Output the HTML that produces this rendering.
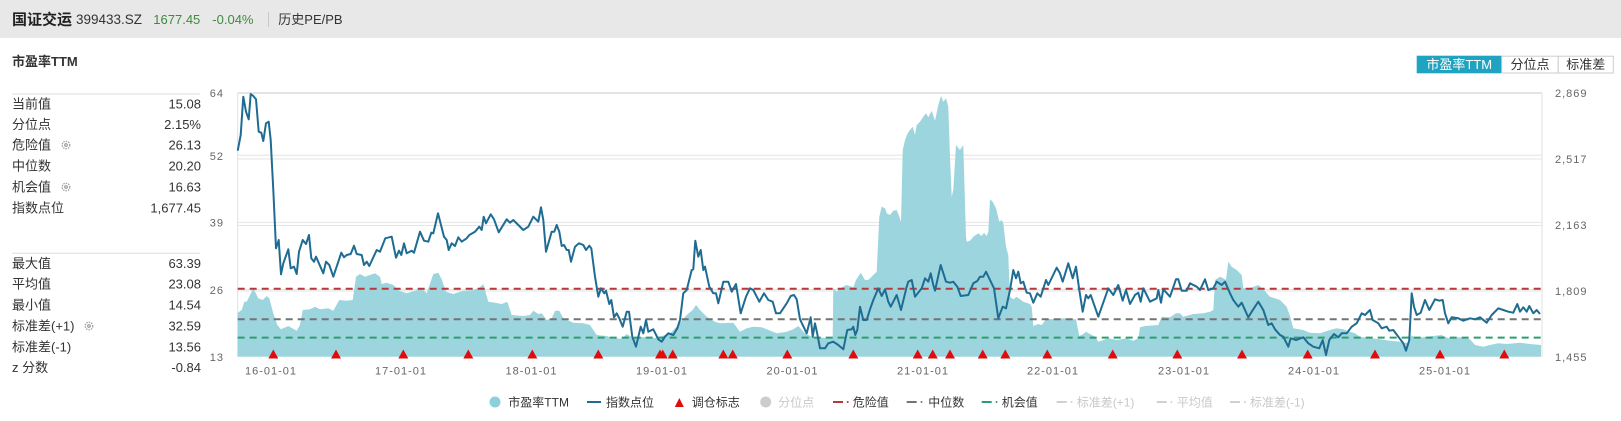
<!DOCTYPE html>
<html><head><meta charset="utf-8"><style>
html,body{margin:0;padding:0;background:#fff;}
body{width:1621px;height:421px;overflow:hidden;}
svg{display:block;font-family:"Liberation Sans","Noto Sans CJK SC",sans-serif;}
</style></head><body>
<svg width="1621" height="421" viewBox="0 0 1621 421" xmlns="http://www.w3.org/2000/svg">
<!-- header -->
<rect x="0" y="0" width="1621" height="38" fill="#e8e8e8"/>
<text x="12" y="24.5" font-size="15" font-weight="bold" fill="#222">国证交运</text>
<text x="76" y="24" font-size="13.5" fill="#333">399433.SZ</text>
<text x="153.3" y="24" font-size="13" fill="#3d8b3d">1677.45</text>
<text x="212.3" y="24" font-size="13" fill="#3d8b3d">-0.04%</text>
<line x1="268.5" y1="12" x2="268.5" y2="27" stroke="#c8c8c8"/>
<text x="278.3" y="24" font-size="13" fill="#333">历史PE/PB</text>

<text x="12" y="66" font-size="13" font-weight="bold" fill="#333">市盈率TTM</text>

<!-- buttons -->
<rect x="1416.7" y="55.7" width="85" height="17.6" fill="#1fa3c0"/>
<text x="1459.2" y="69" font-size="13" fill="#fff" text-anchor="middle">市盈率TTM</text>
<rect x="1501.7" y="56.2" width="56.6" height="16.8" fill="#fff" stroke="#ccc"/>
<text x="1530" y="69" font-size="13" fill="#333" text-anchor="middle">分位点</text>
<rect x="1558.3" y="56.2" width="55" height="16.8" fill="#fff" stroke="#ccc"/>
<text x="1585.8" y="69" font-size="13" fill="#333" text-anchor="middle">标准差</text>

<!-- left stats -->
<g font-size="13" fill="#333">
<line x1="12" y1="94" x2="200" y2="94" stroke="#ddd"/>
<text x="12" y="108.5">当前值</text><text x="201" y="108.5" text-anchor="end">15.08</text>
<text x="12" y="129">分位点</text><text x="201" y="129" text-anchor="end">2.15%</text>
<text x="12" y="149.5">危险值</text><text x="201" y="149.5" text-anchor="end">26.13</text>
<text x="12" y="170.5">中位数</text><text x="201" y="170.5" text-anchor="end">20.20</text>
<text x="12" y="191.5">机会值</text><text x="201" y="191.5" text-anchor="end">16.63</text>
<text x="12" y="212.5">指数点位</text><text x="201" y="212.5" text-anchor="end">1,677.45</text>
<line x1="12" y1="253.3" x2="200" y2="253.3" stroke="#ddd"/>
<text x="12" y="268">最大值</text><text x="201" y="268" text-anchor="end">63.39</text>
<text x="12" y="288.5">平均值</text><text x="201" y="288.5" text-anchor="end">23.08</text>
<text x="12" y="309.5">最小值</text><text x="201" y="309.5" text-anchor="end">14.54</text>
<text x="12" y="330.5">标准差(+1)</text><text x="201" y="330.5" text-anchor="end">32.59</text>
<text x="12" y="351.5">标准差(-1)</text><text x="201" y="351.5" text-anchor="end">13.56</text>
<text x="12" y="372">z 分数</text><text x="201" y="372" text-anchor="end">-0.84</text>
</g>
<g fill="none" stroke="#999" stroke-width="1.2">
<circle cx="66" cy="145" r="3.8" stroke-dasharray="1.5,1"/><circle cx="66" cy="145" r="1.3"/>
<circle cx="66" cy="187" r="3.8" stroke-dasharray="1.5,1"/><circle cx="66" cy="187" r="1.3"/>
<circle cx="89" cy="326" r="3.8" stroke-dasharray="1.5,1"/><circle cx="89" cy="326" r="1.3"/>
</g>

<!-- grid -->
<g stroke="#e4e4e4" stroke-width="1">
<line x1="237.7" y1="155.2" x2="1542" y2="155.2"/>
<line x1="237.7" y1="222.4" x2="1542" y2="222.4"/>
<line x1="237.7" y1="289.6" x2="1542" y2="289.6"/>
<line x1="237.7" y1="159" x2="1542" y2="159"/>
<line x1="237.7" y1="225.5" x2="1542" y2="225.5"/>
<line x1="237.7" y1="291" x2="1542" y2="291"/>
</g>
<line x1="237.7" y1="93" x2="1542" y2="93" stroke="#dcdcdc" stroke-width="1.5"/>
<line x1="237.7" y1="93" x2="237.7" y2="357" stroke="#e0e0e0"/>
<line x1="1542" y1="93" x2="1542" y2="357" stroke="#e0e0e0"/>

<!-- area -->
<path fill="#9dd5de" d="M237.7,356.7 L237.7,312.7 L241.7,310 L244.3,301.7 L246.7,301.7 L253.3,288.3 L258.3,298.3 L262.7,300 L266.7,296 L269.3,298.3 L273.3,313.3 L277.3,325 L281,329.3 L288.3,326 L296.7,330.7 L300,325 L302.7,310 L310,309.3 L315,306.7 L320,309.3 L328.3,308.3 L333.3,310.7 L339.3,300 L346.7,300.7 L352.7,300 L356,276.7 L360,274 L365,276.7 L370,275 L375,273.3 L380,276.7 L381.7,284 L386.7,282.7 L393.3,285 L399.3,290.7 L406.7,293.3 L415,290.7 L421.7,288.3 L426.7,293.3 L433.3,274 L438.3,272.7 L441.7,279.3 L446,291.7 L453.3,294 L463.3,290.7 L473.3,290 L480,287.3 L483.3,284 L488.3,301.7 L495,302.7 L501.7,304 L507.3,301.7 L511.7,315 L523.3,316 L530,315 L533.3,310.7 L538.3,314 L541.7,313.3 L546.7,320 L551.7,318.3 L555,310.7 L559.3,310.7 L563.3,318.3 L573.3,322.7 L583.3,323.3 L590,325 L596.7,335 L606.7,336 L613.3,338.3 L621.7,338.7 L626.7,334 L628.3,335 L633.3,338.3 L640,336.7 L653.3,338.3 L660,336.7 L670,333.3 L676.7,326.7 L686.7,315 L692.7,310 L696,305 L700,310 L705,315 L707.3,317.3 L715,321.7 L720,323.3 L733.3,322.7 L740,331.7 L746.7,328.3 L753.3,326.7 L761.7,327.3 L766.7,329.3 L776.7,333.3 L786.7,331.7 L793.3,329.3 L798.3,326 L805,333.3 L811.7,336.7 L820,337.3 L826.7,338.3 L832.7,336.7 L833.3,288.3 L836.7,291.7 L840,288.3 L846.7,285 L853.3,287.3 L856,280 L860.7,272.7 L865,280 L868.3,280 L873.3,275 L876.7,271.7 L879.3,216.7 L881.7,206.7 L885,208.3 L886.7,213.3 L890,215 L893.3,210.7 L896.7,210 L899.3,216.7 L901,221.7 L902.7,150 L905,140 L907.7,133.3 L910,130 L912.7,126.7 L915,135 L916.7,125 L920,121.7 L923.3,116.7 L926,113.3 L928.3,117.3 L931.7,110.7 L935,120.7 L938.3,105 L941,96 L943.3,101.7 L946,98.3 L948.3,106.7 L950,156.7 L951.7,196.7 L953.3,190 L956,145 L960,150 L963.3,145 L966,236.7 L966.7,241.7 L970,240.7 L973.3,236.7 L978.3,233.3 L981.7,236 L984,232.7 L986.7,236 L988.3,231.7 L990,199.3 L992.7,201.7 L996,208.3 L999.3,221.7 L1001.7,220 L1003.3,223.3 L1006,246.7 L1008.3,255 L1010,296.7 L1013.3,299.3 L1016.7,296.7 L1023.3,301.7 L1030,304 L1031.7,306.7 L1033.3,326 L1038.3,324 L1041.7,325 L1046,319.3 L1050,319 L1056.7,319.3 L1063.3,318.3 L1073.3,319.3 L1076,319.3 L1079.3,336 L1083.3,334 L1086,331.7 L1090,334 L1095,336.7 L1098.3,341.7 L1108.3,338.3 L1116.7,340 L1126.7,338.3 L1133.3,340.7 L1138.3,338.3 L1140,327.3 L1145,326 L1158.3,325 L1161.7,316.7 L1170,317.3 L1176,313.3 L1180,313.3 L1183.3,316.7 L1193.3,314 L1203.3,313.3 L1210,311.7 L1213.3,310 L1215,280 L1220,276.7 L1223.3,278.3 L1226,280 L1228.3,261.7 L1231.7,266.7 L1236.7,270 L1241.7,275 L1243.3,288.3 L1250,288.3 L1258.3,285 L1263.3,289.3 L1270,296.7 L1280,300 L1286.7,306.7 L1290,316 L1293.3,328.3 L1303.3,330 L1310,332.7 L1320,333.3 L1330,330 L1336.7,328.3 L1343.3,329.3 L1350,331.7 L1355,333.3 L1360,336.7 L1370,338.3 L1380,339.3 L1390,340.7 L1400,341.7 L1408.3,343.3 L1411.7,335 L1415,338.3 L1423.3,337.3 L1433.3,336 L1441.7,335 L1448.3,338.3 L1460,337.3 L1470,339.3 L1475,345 L1483.3,346.7 L1490,345 L1498.3,343.3 L1506.7,344 L1520,342.7 L1530,344 L1541,345 L1541,356.7 Z"/>

<!-- reference dashed lines -->
<line x1="237.7" y1="288.8" x2="1541" y2="288.8" stroke="#b5383a" stroke-width="2" stroke-dasharray="7,5"/>
<line x1="237.7" y1="319.3" x2="1541" y2="319.3" stroke="#737373" stroke-width="2" stroke-dasharray="7,5"/>
<line x1="237.7" y1="337.6" x2="1541" y2="337.6" stroke="#2e9e70" stroke-width="2" stroke-dasharray="7,5"/>

<!-- index line -->
<polyline fill="none" stroke="#1f6c93" stroke-width="2" stroke-linejoin="round" points="237.7,150.7 240.7,135 243.3,96.7 246,111.7 248.7,119.3 250.7,94 253.3,96 256,99.3 258.7,131.7 261.3,132.7 263.3,141 266,123.3 268.7,121.7 270.7,140 273.3,190 276,248.3 278.7,240 281,274.3 283.3,263.3 288.3,249.3 290.7,268.3 294,266.7 296.7,274 299,251.7 302.7,240 306,244 309,235 311.3,258.3 314,261.7 316,256.7 323.3,273.3 326,261.7 329.3,265 333.3,276.7 341.3,252.7 344,257.3 346.7,255 350.7,254 354,245.7 356.7,254 361.7,255 364,265 366.7,261.7 369.3,266 376.7,250 380,251.7 385.3,238.3 391.7,236.7 396,257.7 399,250.7 401.3,255 404,243.3 406.7,253.3 411.7,250.7 414,252.7 420,231.7 424,240.7 428.3,241.7 431.3,232.7 433.3,233.3 438,213.3 444,236.7 446.7,240 448.7,250 451.7,243.3 455,246 458.3,237.3 461.7,241.7 466.7,238.3 469.3,235 475,231.7 479.3,226.7 481.7,230 483.7,216.7 486,223.3 490.7,214.3 494,219.3 498.7,232.3 506.7,219.3 510,222.7 513.3,220 523.3,230 528.3,226.7 533.3,216.7 538.3,221.7 541,207.3 543.3,220 546,251.7 551.7,231.7 554.3,231.7 556.7,225 559.3,231.7 561.7,246 564,245 566.7,250 568.7,250 571,261.7 575,246.7 579,243.3 583.3,245 586,250 589.3,245.7 591.3,248.3 595,276.7 598.3,296.7 601,288.3 604.3,293.3 606,290.7 609.3,304 611.3,300 614,317.3 616.7,313.3 619.3,318.3 622.7,326.7 626.7,311.7 629,311.7 632.3,336.7 636,346.7 640.7,326.7 643.3,333.3 646,320 648.3,331.7 653.3,329.3 658.3,339.3 661.7,341.7 665,336.7 668.3,333.3 673.3,335 677.3,328.3 680,320 683.3,293.3 686.7,290 691.7,270 693.3,269.3 695.3,240.7 698.3,256.7 700.7,250 703.3,270 705,266.7 709.3,286.7 713.3,293.3 716,293.3 718.3,303.3 723.3,281.7 728.3,281.7 731.7,291.7 736,284 740.7,313.3 746,296.7 750,288.3 753.3,290 759.3,301.7 764,293.3 768.3,300 772.7,301.7 776,313.3 780,313.3 786.7,303.3 790.7,296 794,295 796.7,299.3 800,319.3 806.7,333.3 810.7,317.3 812.7,336.7 815,323.3 817.3,334 820,348.3 825,348.3 828.3,343.3 833.3,341.7 838.3,345 843.3,349.3 847.3,330 851.7,329.3 853.3,326.7 855.3,335 857.3,330 860,306.7 863.3,320 866.7,320 870,309.3 873.3,300 878.3,288.3 881.7,296 885,289.3 888.3,301.7 890.7,306.7 896.7,295 901,310 906.7,286.7 908.3,281.7 911.7,280 915,296.7 921.7,288.3 925,278.3 928.3,281.7 930.7,273.3 933.3,285 935,290.7 940.7,265 946,281.7 950,282.7 953.3,281.7 957.3,286.7 960.7,296 968.3,295 973.3,283.3 977.3,281 980,276.7 983.3,276.7 986,271.7 990,280 994,288.3 998.3,318.3 1002.7,306.7 1006,308.3 1010,290 1013.3,270 1016,278.3 1018.3,271.7 1020.7,283.3 1023.3,281.7 1026.7,292.7 1030,293.3 1033.3,302.7 1037.3,293.3 1040.7,296.7 1046,280 1048.3,285 1056.7,267.7 1060,273.3 1062.7,281.7 1068.3,263.3 1072.7,278.3 1076,266.7 1079.3,290 1082.7,311.7 1086,295 1088.3,298.3 1090.7,295 1098.3,316.7 1108.3,288.3 1113.3,295 1118.3,285 1122.7,300.7 1126,290 1130,304 1135,295 1138.3,292.7 1140.7,301.7 1143.3,288.3 1146.7,295 1150,301.7 1156.7,298.3 1158.3,290 1161,302.7 1163.3,289.3 1170,296.7 1176,279.3 1178.3,279.3 1181.7,290.7 1186.7,290.7 1190,283.3 1196.7,286.7 1200,290 1205,279.3 1208.3,290 1213.3,288.3 1216.7,281.7 1221.7,285 1225,281.7 1230,293.3 1233.3,300 1238.3,306.7 1241.7,302.7 1248.3,317.3 1251.7,311.7 1258.3,301.7 1263.3,310 1268.3,325 1271.7,323.3 1275,329.3 1280,335 1283.3,336.7 1288.3,346.7 1290.7,338.3 1296,340 1303.3,337.3 1308.3,343.3 1313.3,346.7 1319.3,348.3 1322.7,340 1326,355 1329.3,340 1334,334 1338.3,337.3 1341.7,333.3 1346.7,333.3 1351.7,326.7 1356.7,323.3 1361.7,313.3 1365,315 1370,310 1372.7,320 1378.3,323.3 1381.7,328.3 1386.7,326.7 1389.3,330.7 1393.3,330 1398.3,336.7 1403.3,343.3 1406,350.7 1409.3,340 1411.7,293.3 1414,306.7 1416.7,315 1420.7,312.7 1425,300 1429.3,310 1435,299.3 1439.3,300.7 1442.7,300 1445,313.3 1448.3,323.3 1451.7,317.3 1458.3,318.3 1463.3,320.7 1470,318.3 1475,319.3 1480,317.3 1486.7,322.7 1491.7,315 1498.3,308.3 1503.3,310 1508.3,311.7 1513.3,312.7 1517.3,304 1520,311.7 1523.3,307.3 1526.7,311.7 1529.3,306 1533.3,313.3 1536.7,310 1540,314"/>

<!-- triangles -->
<g fill="#e00b0b">
<path d="M268.3,358.5 L273.3,349.5 L278.3,358.5Z"/>
<path d="M331,358.5 L336,349.5 L341,358.5Z"/>
<path d="M398.3,358.5 L403.3,349.5 L408.3,358.5Z"/>
<path d="M463.3,358.5 L468.3,349.5 L473.3,358.5Z"/>
<path d="M527.3,358.5 L532.3,349.5 L537.3,358.5Z"/>
<path d="M593.3,358.5 L598.3,349.5 L603.3,358.5Z"/>
<path d="M655,358.5 L660,349.5 L665,358.5Z"/>
<path d="M657.7,358.5 L662.7,349.5 L667.7,358.5Z"/>
<path d="M667.7,358.5 L672.7,349.5 L677.7,358.5Z"/>
<path d="M718.3,358.5 L723.3,349.5 L728.3,358.5Z"/>
<path d="M727.7,358.5 L732.7,349.5 L737.7,358.5Z"/>
<path d="M782.3,358.5 L787.3,349.5 L792.3,358.5Z"/>
<path d="M848.3,358.5 L853.3,349.5 L858.3,358.5Z"/>
<path d="M912.7,358.5 L917.7,349.5 L922.7,358.5Z"/>
<path d="M927.7,358.5 L932.7,349.5 L937.7,358.5Z"/>
<path d="M945,358.5 L950,349.5 L955,358.5Z"/>
<path d="M977.7,358.5 L982.7,349.5 L987.7,358.5Z"/>
<path d="M1000.3,358.5 L1005.3,349.5 L1010.3,358.5Z"/>
<path d="M1042.3,358.5 L1047.3,349.5 L1052.3,358.5Z"/>
<path d="M1107.7,358.5 L1112.7,349.5 L1117.7,358.5Z"/>
<path d="M1172.3,358.5 L1177.3,349.5 L1182.3,358.5Z"/>
<path d="M1237,358.5 L1242,349.5 L1247,358.5Z"/>
<path d="M1302.7,358.5 L1307.7,349.5 L1312.7,358.5Z"/>
<path d="M1370,358.5 L1375,349.5 L1380,358.5Z"/>
<path d="M1435,358.5 L1440,349.5 L1445,358.5Z"/>
<path d="M1499.3,358.5 L1504.3,349.5 L1509.3,358.5Z"/>
</g>

<!-- axis labels -->
<g font-size="11" fill="#666" letter-spacing="1">
<text x="224" y="97" text-anchor="end">64</text>
<text x="224" y="160" text-anchor="end">52</text>
<text x="224" y="226.5" text-anchor="end">39</text>
<text x="224" y="294" text-anchor="end">26</text>
<text x="224" y="361" text-anchor="end">13</text>
<text x="1555" y="97">2,869</text>
<text x="1555" y="163">2,517</text>
<text x="1555" y="229">2,163</text>
<text x="1555" y="295">1,809</text>
<text x="1555" y="361">1,455</text>
</g>
<g font-size="11" fill="#666" letter-spacing="1" text-anchor="middle">
<text x="271" y="374.5">16-01-01</text>
<text x="401" y="374.5">17-01-01</text>
<text x="531.5" y="374.5">18-01-01</text>
<text x="662" y="374.5">19-01-01</text>
<text x="792.5" y="374.5">20-01-01</text>
<text x="923" y="374.5">21-01-01</text>
<text x="1053" y="374.5">22-01-01</text>
<text x="1184" y="374.5">23-01-01</text>
<text x="1314" y="374.5">24-01-01</text>
<text x="1445" y="374.5">25-01-01</text>
</g>

<!-- legend -->
<g font-size="12">
<circle cx="495" cy="402" r="5.5" fill="#8dcfdc"/>
<text x="508.3" y="406.5" fill="#333">市盈率TTM</text>
<line x1="587" y1="402" x2="601" y2="402" stroke="#1f6c93" stroke-width="2"/>
<text x="606" y="406.5" fill="#333">指数点位</text>
<path d="M674.8,407 L679.3,398 L683.8,407Z" fill="#e00b0b"/>
<text x="691.7" y="406.5" fill="#333">调仓标志</text>
<circle cx="765.7" cy="402" r="5.5" fill="#cccccc"/>
<text x="778.3" y="406.5" fill="#c8c8c8">分位点</text>
<line x1="833" y1="402" x2="843" y2="402" stroke="#b5383a" stroke-width="2"/>
<circle cx="847.7" cy="402" r="1" fill="#b5383a"/>
<text x="852.7" y="406.5" fill="#333">危险值</text>
<line x1="906.7" y1="402" x2="916.7" y2="402" stroke="#737373" stroke-width="2"/>
<circle cx="921.5" cy="402" r="1" fill="#737373"/>
<text x="928.3" y="406.5" fill="#333">中位数</text>
<line x1="981.7" y1="402" x2="991.7" y2="402" stroke="#2e9e70" stroke-width="2"/>
<circle cx="996.5" cy="402" r="1" fill="#2e9e70"/>
<text x="1001.7" y="406.5" fill="#333">机会值</text>
<line x1="1056.7" y1="402" x2="1066.7" y2="402" stroke="#d0d0d0" stroke-width="2"/>
<circle cx="1071.5" cy="402" r="1" fill="#d0d0d0"/>
<text x="1076.7" y="406.5" fill="#c8c8c8">标准差(+1)</text>
<line x1="1156.7" y1="402" x2="1166.7" y2="402" stroke="#d0d0d0" stroke-width="2"/>
<circle cx="1171.5" cy="402" r="1" fill="#d0d0d0"/>
<text x="1176.7" y="406.5" fill="#c8c8c8">平均值</text>
<line x1="1230" y1="402" x2="1240" y2="402" stroke="#d0d0d0" stroke-width="2"/>
<circle cx="1245" cy="402" r="1" fill="#d0d0d0"/>
<text x="1250" y="406.5" fill="#c8c8c8">标准差(-1)</text>
</g>
</svg>
</body></html>
